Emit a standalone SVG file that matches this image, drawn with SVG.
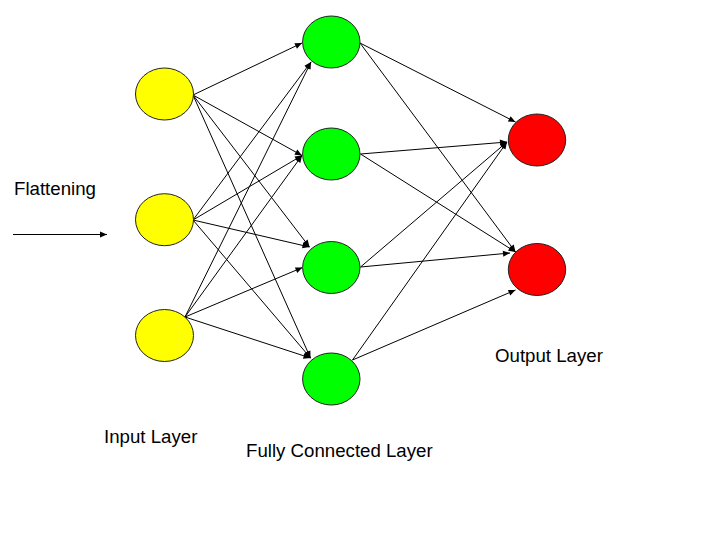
<svg xmlns="http://www.w3.org/2000/svg" width="720" height="540" viewBox="0 0 720 540">
<defs>
<style>
.node{stroke:#222;stroke-width:1}
.yellow{fill:#ffff00}
.green{fill:#00ff00}
.red{fill:#ff0000}
.edge{stroke:#000;stroke-width:1;fill:none;marker-end:url(#arr)}
.label{font-family:"Liberation Sans",Arial,sans-serif;font-size:18.67px;fill:#000}
</style>
<marker id="arr" markerUnits="userSpaceOnUse" markerWidth="10" markerHeight="10" viewBox="0 0 10 10" refX="8" refY="5" orient="auto">
<path d="M1,2 L8,5 L1,8 Z" fill="#000"/>
</marker>
</defs>
<rect width="720" height="540" fill="#fff"/>
<g id="connectors">
<line class="edge" x1="13" y1="234.5" x2="107" y2="234.5"/>
<line class="edge" x1="193" y1="95" x2="302" y2="43"/>
<line class="edge" x1="193" y1="95" x2="302" y2="155.5"/>
<line class="edge" x1="193" y1="95" x2="309.5" y2="247"/>
<line class="edge" x1="193" y1="95" x2="310.5" y2="358"/>
<line class="edge" x1="193" y1="220" x2="311" y2="62"/>
<line class="edge" x1="193" y1="220" x2="302" y2="155.5"/>
<line class="edge" x1="193" y1="220" x2="309.5" y2="247"/>
<line class="edge" x1="193" y1="220" x2="310.5" y2="358"/>
<line class="edge" x1="185" y1="317" x2="311" y2="62"/>
<line class="edge" x1="185" y1="317" x2="302" y2="155.5"/>
<line class="edge" x1="185" y1="317" x2="302.5" y2="267.5"/>
<line class="edge" x1="185" y1="317" x2="310.5" y2="358"/>
<line class="edge" x1="360" y1="43" x2="515.5" y2="122"/>
<line class="edge" x1="360" y1="43" x2="515.5" y2="252"/>
<line class="edge" x1="360.5" y1="154" x2="507" y2="142"/>
<line class="edge" x1="360.5" y1="154" x2="515.5" y2="252"/>
<line class="edge" x1="360.5" y1="267" x2="507" y2="142"/>
<line class="edge" x1="360.5" y1="267" x2="510" y2="253"/>
<line class="edge" x1="352.5" y1="360" x2="507" y2="142"/>
<line class="edge" x1="352.5" y1="360" x2="515.5" y2="290"/>
</g>
<g id="input1"><ellipse class="node yellow" cx="164.5" cy="94" rx="29" ry="26"/></g>
<g id="input2"><ellipse class="node yellow" cx="164.5" cy="219.7" rx="29" ry="26"/></g>
<g id="input3"><ellipse class="node yellow" cx="164.5" cy="335.5" rx="29" ry="26"/></g>
<g id="fc1"><ellipse class="node green" cx="331.3" cy="42" rx="28.7" ry="26"/></g>
<g id="fc2"><ellipse class="node green" cx="331.3" cy="154" rx="28.7" ry="26"/></g>
<g id="fc3"><ellipse class="node green" cx="331.3" cy="267.5" rx="28.7" ry="26"/></g>
<g id="fc4"><ellipse class="node green" cx="331.3" cy="379" rx="28.7" ry="26"/></g>
<g id="out1"><ellipse class="node red" cx="537" cy="140" rx="28.7" ry="26"/></g>
<g id="out2"><ellipse class="node red" cx="537" cy="269.5" rx="28.7" ry="26"/></g>
<g id="labels">
<text class="label" x="14" y="195">Flattening</text>
<text class="label" x="104" y="443">Input Layer</text>
<text class="label" x="246" y="457">Fully Connected Layer</text>
<text class="label" x="495" y="362">Output Layer</text>
</g>
</svg>
